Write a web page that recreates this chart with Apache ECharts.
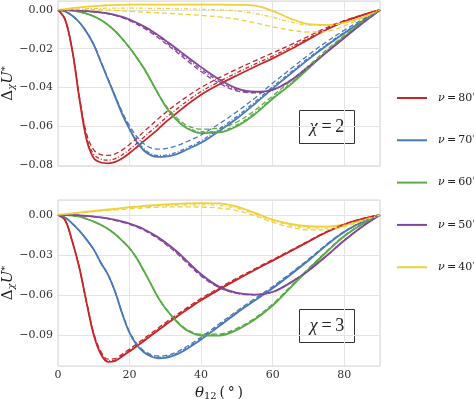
<!DOCTYPE html>
<html>
<head>
<meta charset="utf-8">
<title>Delta U* vs theta12</title>
<script src="https://cdn.jsdelivr.net/npm/echarts@6/dist/echarts.min.js"></script>
<style>
  body { margin: 0; background: #fff; }
  #chart { width: 474px; height: 399px; }
</style>
</head>
<body>
<div id="chart"></div>
<script>
// θ12 sample points (degrees) shared by every curve
const thetas = [0, 2, 4, 6, 8, 10, 12, 14, 16, 18, 20, 22, 24, 26, 28, 30, 33, 36, 40, 45, 50, 55, 60, 65, 70, 75, 80, 85, 90];

// legend labels and colours (ν in degrees)
const nuLabels = ['80', '70', '60', '50', '40'];
const nuColors = ['#c8252a', '#4a78b8', '#5aaa46', '#83469c', '#f0d03c'];

// ---- χ = 2 (top panel) : solid / dashed / dash-dot ----
const c2_80_solid = [0, -0.005, -0.021, -0.046, -0.067, -0.0765, -0.0787, -0.0791, -0.0784, -0.0765, -0.0738, -0.0708, -0.0677, -0.0646, -0.0615, -0.058, -0.0535, -0.049, -0.0437, -0.0385, -0.0338, -0.0293, -0.025, -0.0203, -0.0152, -0.0102, -0.006, -0.0028, 0];
const c2_80_dash  = [0, -0.005, -0.021, -0.045, -0.064, -0.0722, -0.0746, -0.075, -0.0742, -0.0722, -0.0694, -0.0662, -0.0628, -0.0595, -0.0562, -0.053, -0.0487, -0.0448, -0.04, -0.035, -0.0305, -0.0263, -0.0222, -0.018, -0.0136, -0.0092, -0.0055, -0.0026, 0];
const c2_80_dot   = [0, -0.005, -0.021, -0.0455, -0.066, -0.0745, -0.077, -0.0775, -0.0767, -0.0747, -0.072, -0.0689, -0.0657, -0.0624, -0.0592, -0.0558, -0.0514, -0.0471, -0.0421, -0.037, -0.0324, -0.028, -0.0238, -0.0193, -0.0146, -0.0098, -0.0058, -0.0027, 0];

const c2_70_solid = [0, -0.0008, -0.003, -0.0065, -0.0115, -0.018, -0.027, -0.036, -0.045, -0.054, -0.0615, -0.068, -0.0725, -0.075, -0.0758, -0.0757, -0.0745, -0.072, -0.0685, -0.0625, -0.056, -0.0485, -0.0405, -0.033, -0.0255, -0.0185, -0.012, -0.0058, 0];
const c2_70_dash  = [0, -0.0008, -0.003, -0.0065, -0.0113, -0.0177, -0.0265, -0.0355, -0.0443, -0.0528, -0.0598, -0.0653, -0.069, -0.0712, -0.0718, -0.0715, -0.0702, -0.068, -0.0645, -0.0588, -0.0525, -0.0455, -0.0378, -0.0305, -0.0232, -0.0165, -0.0105, -0.005, 0];
const c2_70_dot   = [0, -0.0008, -0.003, -0.0065, -0.0114, -0.0179, -0.0268, -0.0358, -0.0447, -0.0535, -0.061, -0.0673, -0.0716, -0.0742, -0.0751, -0.0749, -0.0736, -0.0711, -0.0675, -0.0614, -0.0549, -0.0475, -0.0396, -0.0322, -0.0248, -0.018, -0.0116, -0.0056, 0];

const c2_60_solid = [0, -0.0001, -0.0004, -0.001, -0.0019, -0.0033, -0.0052, -0.0078, -0.011, -0.015, -0.0195, -0.0245, -0.03, -0.0365, -0.0432, -0.0495, -0.0565, -0.061, -0.0635, -0.0632, -0.06, -0.0538, -0.0458, -0.0385, -0.0302, -0.0218, -0.014, -0.0066, 0];
const c2_60_dash  = [0, -0.0001, -0.0004, -0.001, -0.0019, -0.0033, -0.0052, -0.0078, -0.011, -0.015, -0.0196, -0.0247, -0.0303, -0.0368, -0.0433, -0.049, -0.0553, -0.0595, -0.0615, -0.061, -0.0578, -0.0518, -0.0443, -0.0368, -0.0288, -0.0207, -0.0132, -0.0062, 0];
const c2_60_dot   = [0, -0.0001, -0.0004, -0.001, -0.0019, -0.0033, -0.0052, -0.0078, -0.011, -0.015, -0.0195, -0.0246, -0.0301, -0.0366, -0.0432, -0.0493, -0.0561, -0.0605, -0.0628, -0.0626, -0.0593, -0.0531, -0.0453, -0.0379, -0.0297, -0.0214, -0.0137, -0.0064, 0];

const c2_50_solid = [0, -0.0001, -0.0002, -0.0004, -0.0006, -0.0009, -0.0013, -0.0018, -0.0026, -0.0036, -0.005, -0.0066, -0.0085, -0.0106, -0.013, -0.0157, -0.0198, -0.024, -0.0295, -0.0358, -0.0405, -0.0422, -0.0412, -0.0365, -0.0295, -0.022, -0.0145, -0.007, 0];
const c2_50_dash  = [0, -0.0001, -0.0002, -0.0004, -0.0007, -0.001, -0.0014, -0.002, -0.0028, -0.004, -0.0055, -0.0073, -0.0094, -0.0117, -0.0143, -0.0172, -0.0215, -0.026, -0.0318, -0.0378, -0.0418, -0.0428, -0.0412, -0.0362, -0.0292, -0.0218, -0.0143, -0.0069, 0];
const c2_50_dot   = [0, -0.0001, -0.0002, -0.0004, -0.0006, -0.001, -0.0013, -0.0019, -0.0027, -0.0038, -0.0052, -0.0069, -0.0089, -0.0111, -0.0136, -0.0165, -0.0207, -0.025, -0.0307, -0.0368, -0.0412, -0.0425, -0.0412, -0.0364, -0.0294, -0.0219, -0.0144, -0.007, 0];

const c2_40_solid = [0, 0.0004, 0.0009, 0.0013, 0.0017, 0.002, 0.0022, 0.0024, 0.0025, 0.0026, 0.0027, 0.0027, 0.0027, 0.0027, 0.0027, 0.0027, 0.0027, 0.0027, 0.0027, 0.0027, 0.0026, 0.0022, -0.0005, -0.0045, -0.0073, -0.0077, -0.0065, -0.0039, 0];
const c2_40_dash  = [0, 0.0001, 0.0002, 0.0002, 0.0002, 0.0001, 0, -0.0001, -0.0003, -0.0005, -0.0007, -0.0009, -0.0011, -0.0013, -0.0015, -0.0017, -0.002, -0.0023, -0.0028, -0.0036, -0.0048, -0.0066, -0.0087, -0.0104, -0.0114, -0.0111, -0.0082, -0.0043, 0];
const c2_40_dot   = [0, 0.0001, 0.0003, 0.0005, 0.0006, 0.0007, 0.0008, 0.0009, 0.0009, 0.0009, 0.0009, 0.0009, 0.0009, 0.0008, 0.0008, 0.0007, 0.0006, 0.0005, 0.0003, 0, -0.0006, -0.0018, -0.0038, -0.0062, -0.0078, -0.0079, -0.0066, -0.0039, 0];

// ---- χ = 3 (bottom panel) ----
const c3_80_solid = [0, -0.004, -0.02, -0.04, -0.066, -0.09, -0.1045, -0.1102, -0.1095, -0.106, -0.1023, -0.0985, -0.0945, -0.0905, -0.0865, -0.0825, -0.0768, -0.0712, -0.064, -0.056, -0.0485, -0.0413, -0.0343, -0.0272, -0.02, -0.013, -0.0072, -0.003, 0];
const c3_80_dash  = [0, -0.004, -0.02, -0.04, -0.0655, -0.0888, -0.1025, -0.1082, -0.1077, -0.1043, -0.1006, -0.0968, -0.0928, -0.0888, -0.0848, -0.0808, -0.0752, -0.0697, -0.0626, -0.0548, -0.0474, -0.0404, -0.0335, -0.0266, -0.0196, -0.0127, -0.007, -0.0029, 0];
const c3_80_dot   = [0, -0.004, -0.02, -0.04, -0.0658, -0.0895, -0.1037, -0.1095, -0.1088, -0.1053, -0.1016, -0.0978, -0.0938, -0.0898, -0.0858, -0.0818, -0.0761, -0.0706, -0.0634, -0.0555, -0.048, -0.0409, -0.034, -0.027, -0.0198, -0.0129, -0.0071, -0.003, 0];

const c3_70_solid = [0, -0.002, -0.0065, -0.012, -0.0185, -0.026, -0.036, -0.045, -0.058, -0.0745, -0.0885, -0.0975, -0.103, -0.1062, -0.1075, -0.1072, -0.1048, -0.1005, -0.0935, -0.0835, -0.0735, -0.0642, -0.055, -0.0448, -0.0342, -0.0228, -0.0128, -0.0055, 0];
const c3_70_dash  = [0, -0.002, -0.0065, -0.012, -0.0185, -0.026, -0.036, -0.045, -0.0578, -0.074, -0.0878, -0.0965, -0.1018, -0.1048, -0.1058, -0.1055, -0.103, -0.0987, -0.0917, -0.0818, -0.072, -0.0628, -0.0537, -0.0437, -0.0333, -0.0222, -0.0124, -0.0053, 0];
const c3_70_dot   = [0, -0.002, -0.0065, -0.012, -0.0185, -0.026, -0.036, -0.045, -0.0579, -0.0743, -0.0882, -0.097, -0.1024, -0.1055, -0.1067, -0.1064, -0.104, -0.0997, -0.0927, -0.0827, -0.0728, -0.0635, -0.0544, -0.0443, -0.0338, -0.0225, -0.0126, -0.0054, 0];

const c3_60_solid = [0, -0.0001, -0.0005, -0.0012, -0.003, -0.005, -0.0075, -0.0105, -0.0145, -0.0195, -0.025, -0.0325, -0.042, -0.052, -0.062, -0.07, -0.0795, -0.0865, -0.0905, -0.0905, -0.0862, -0.0785, -0.068, -0.0545, -0.041, -0.028, -0.016, -0.007, 0];
const c3_60_dash  = [0, -0.0001, -0.0005, -0.0012, -0.003, -0.005, -0.0075, -0.0105, -0.0145, -0.0195, -0.025, -0.0325, -0.042, -0.052, -0.062, -0.0698, -0.079, -0.0858, -0.0895, -0.0893, -0.085, -0.0773, -0.0668, -0.0535, -0.0402, -0.0274, -0.0156, -0.0068, 0];
const c3_60_dot   = [0, -0.0001, -0.0005, -0.0012, -0.003, -0.005, -0.0075, -0.0105, -0.0145, -0.0195, -0.025, -0.0325, -0.042, -0.052, -0.062, -0.0699, -0.0793, -0.0862, -0.09, -0.0899, -0.0856, -0.0779, -0.0674, -0.054, -0.0406, -0.0277, -0.0158, -0.0069, 0];

const c3_50_solid = [0, -0.0001, -0.0002, -0.0004, -0.0007, -0.0012, -0.0018, -0.0026, -0.0037, -0.005, -0.0065, -0.0084, -0.0107, -0.0135, -0.0167, -0.0205, -0.0268, -0.0345, -0.0445, -0.0538, -0.0585, -0.0598, -0.0578, -0.0508, -0.0418, -0.0308, -0.0192, -0.0088, 0];
const c3_50_dash  = [0, -0.0001, -0.0002, -0.0004, -0.0008, -0.0013, -0.002, -0.0029, -0.0041, -0.0055, -0.007, -0.009, -0.0115, -0.0145, -0.0178, -0.0218, -0.0283, -0.036, -0.0458, -0.0545, -0.0588, -0.0598, -0.0577, -0.0506, -0.0416, -0.0306, -0.0191, -0.0087, 0];
const c3_50_dot   = [0, -0.0001, -0.0002, -0.0004, -0.0007, -0.0012, -0.0019, -0.0027, -0.0039, -0.0052, -0.0068, -0.0087, -0.0111, -0.014, -0.0172, -0.0212, -0.0276, -0.0353, -0.0452, -0.0542, -0.0587, -0.0598, -0.0578, -0.0507, -0.0417, -0.0307, -0.0192, -0.0088, 0];

const c3_40_solid = [0, 0.0006, 0.0012, 0.0018, 0.0024, 0.003, 0.0036, 0.0041, 0.0046, 0.0052, 0.0058, 0.0063, 0.0068, 0.0072, 0.0076, 0.0079, 0.0083, 0.0086, 0.0089, 0.0086, 0.0062, 0.0015, -0.0035, -0.0068, -0.0085, -0.0088, -0.0072, -0.004, 0];
const c3_40_dash  = [0, 0.0005, 0.001, 0.0015, 0.002, 0.0025, 0.003, 0.0034, 0.0038, 0.0042, 0.0045, 0.0049, 0.0053, 0.0056, 0.0058, 0.006, 0.0061, 0.0061, 0.0059, 0.0052, 0.0032, -0.0005, -0.0055, -0.0092, -0.0112, -0.0112, -0.0088, -0.0048, 0];
const c3_40_dot   = [0, 0.0005, 0.0011, 0.0017, 0.0022, 0.0028, 0.0033, 0.0038, 0.0043, 0.0048, 0.0052, 0.0057, 0.0061, 0.0065, 0.0068, 0.007, 0.0073, 0.0075, 0.0076, 0.0072, 0.005, 0.0008, -0.0042, -0.0078, -0.0098, -0.0099, -0.008, -0.0044, 0];

const topCurves = [
    [c2_80_solid, c2_80_dash, c2_80_dot],
    [c2_70_solid, c2_70_dash, c2_70_dot],
    [c2_60_solid, c2_60_dash, c2_60_dot],
    [c2_50_solid, c2_50_dash, c2_50_dot],
    [c2_40_solid, c2_40_dash, c2_40_dot]
];
const bottomCurves = [
    [c3_80_solid, c3_80_dash, c3_80_dot],
    [c3_70_solid, c3_70_dash, c3_70_dot],
    [c3_60_solid, c3_60_dash, c3_60_dot],
    [c3_50_solid, c3_50_dash, c3_50_dot],
    [c3_40_solid, c3_40_dash, c3_40_dot]
];

// line styles: solid, dashed, dash-dot
const lineTypes = ['solid', [5, 3], [4, 2, 1, 2]];
const lineWidths = [1.8, 1.3, 1.3];

const tickFont = 'DejaVu Serif';
const gridColor = '#e4e4e4';

function yFormatter(step) {
    return function (v) {
        const k = v / step;
        if (Math.abs(k - Math.round(k)) > 1e-6) return '';
        if (Math.abs(v) < 1e-9) return '0.00';
        return (v < 0 ? '\u2212' : '') + Math.abs(v).toFixed(2);
    };
}

const series = [];
[topCurves, bottomCurves].forEach((panel, pi) => {
    panel.forEach((trio, ni) => {
        trio.forEach((vals, si) => {
            series.push({
                type: 'line',
                name: si === 0 ? 'ν=' + nuLabels[ni] : 'nu' + nuLabels[ni] + '_' + si,
                xAxisIndex: pi,
                yAxisIndex: pi,
                data: thetas.map((t, i) => [t, vals[i]]),
                showSymbol: false,
                smooth: 0.35,
                silent: true,
                color: nuColors[ni],
                lineStyle: { color: nuColors[ni], width: lineWidths[si], type: lineTypes[si] },
                z: 2 + si
            });
        });
    });
});

const yNameRich = {
    d: { fontFamily: 'DejaVu Serif', fontSize: 15, color: '#222' },
    s: { fontFamily: 'DejaVu Serif', fontStyle: 'italic', fontSize: 10, color: '#222', padding: [6, 0, 0, 0] },
    u: { fontFamily: 'DejaVu Serif', fontStyle: 'italic', fontSize: 15, color: '#222' },
    p: { fontFamily: 'DejaVu Serif', fontSize: 10, color: '#222', padding: [0, 0, 6, 0] }
};
const yName = '{d|Δ}{s|χ}{u|U}{p|*}';

function makeY(gi, min, max, step) {
    return {
        type: 'value', gridIndex: gi, min: min, max: max, splitNumber: 4,
        name: yName, nameLocation: 'middle', nameRotate: 90, nameGap: 42, nameMoveOverlap: false,
        nameTextStyle: { rich: yNameRich },
        axisLine: { show: false }, axisTick: { show: false },
        axisLabel: { formatter: yFormatter(step), fontFamily: tickFont, fontSize: 11, color: '#333', margin: 5, showMinLabel: false, showMaxLabel: false },
        splitLine: { lineStyle: { color: gridColor, width: 1 } }
    };
}

const gridBase = { left: 58, right: 94, show: true, borderColor: '#d4d4d4', borderWidth: 1, backgroundColor: '#fff', containLabel: false, outerBoundsMode: 'none' };

const option = {
    animation: false,
    backgroundColor: '#fff',
    grid: [
        Object.assign({ top: 1, height: 165 }, gridBase),
        Object.assign({ top: 200, height: 166 }, gridBase)
    ],
    xAxis: [
        {
            type: 'value', gridIndex: 0, min: 0, max: 90, interval: 20,
            axisLine: { show: false }, axisTick: { show: false }, axisLabel: { show: false },
            splitLine: { lineStyle: { color: gridColor, width: 1 } }
        },
        {
            type: 'value', gridIndex: 1, min: 0, max: 90, interval: 20,
            axisLine: { show: false }, axisTick: { show: false },
            axisLabel: { fontFamily: tickFont, fontSize: 11, color: '#333', margin: 4, showMaxLabel: false,
                formatter: v => (v % 20 === 0 ? String(v) : '') },
            splitLine: { lineStyle: { color: gridColor, width: 1 } },
            name: '{i|θ}{s|12}{n|\u2009(\u2009°\u2009)}', nameLocation: 'middle', nameGap: 19, nameMoveOverlap: false,
            nameTextStyle: {
                rich: {
                    i: { fontFamily: 'DejaVu Serif', fontStyle: 'italic', fontSize: 15, color: '#222' },
                    s: { fontFamily: 'DejaVu Serif', fontSize: 10, color: '#222', padding: [6, 0, 0, 0] },
                    n: { fontFamily: 'DejaVu Serif', fontSize: 14, color: '#222' }
                }
            }
        }
    ],
    yAxis: [
        makeY(0, -0.0805, 0.0046, 0.02),
        makeY(1, -0.1133, 0.0112, 0.03)
    ],
    legend: {
        data: nuLabels.map(n => 'ν=' + n),
        orient: 'vertical',
        left: 392, top: 85,
        icon: 'rect', itemWidth: 30, itemHeight: 2, itemGap: 26.3,
        formatter: name => '{i|ν}{t|\u2009=\u2009' + name.slice(2) + '°}',
        textStyle: {
            lineHeight: 16, padding: [0, 0, 0, 6],
            rich: {
                i: { fontFamily: 'DejaVu Serif', fontStyle: 'italic', fontSize: 11, color: '#222' },
                t: { fontFamily: 'DejaVu Serif', fontSize: 11, color: '#222' }
            }
        },
        selectedMode: false
    },
    graphic: [
        { chi: '2', top: 110 }, { chi: '3', top: 309 }
    ].map(b => ({
        type: 'group', left: 299, top: b.top, silent: true,
        children: [
            { type: 'rect', shape: { x: 0.5, y: 0.5, width: 55, height: 33 }, style: { fill: '#fff', stroke: '#333', lineWidth: 1 } },
            { type: 'text', x: 28, y: 17, style: {
                text: '{i|χ}{n|\u2009=\u2009' + b.chi + '}', align: 'center', verticalAlign: 'middle',
                rich: {
                    i: { fontFamily: 'Liberation Serif', fontStyle: 'italic', fontSize: 18, fill: '#222' },
                    n: { fontFamily: 'Liberation Serif', fontSize: 18, fill: '#222' }
                }
            } }
        ]
    })),
    series: series
};

const chart = echarts.init(document.getElementById('chart'), null, { renderer: 'canvas' });
chart.setOption(option);
</script>
</body>
</html>
